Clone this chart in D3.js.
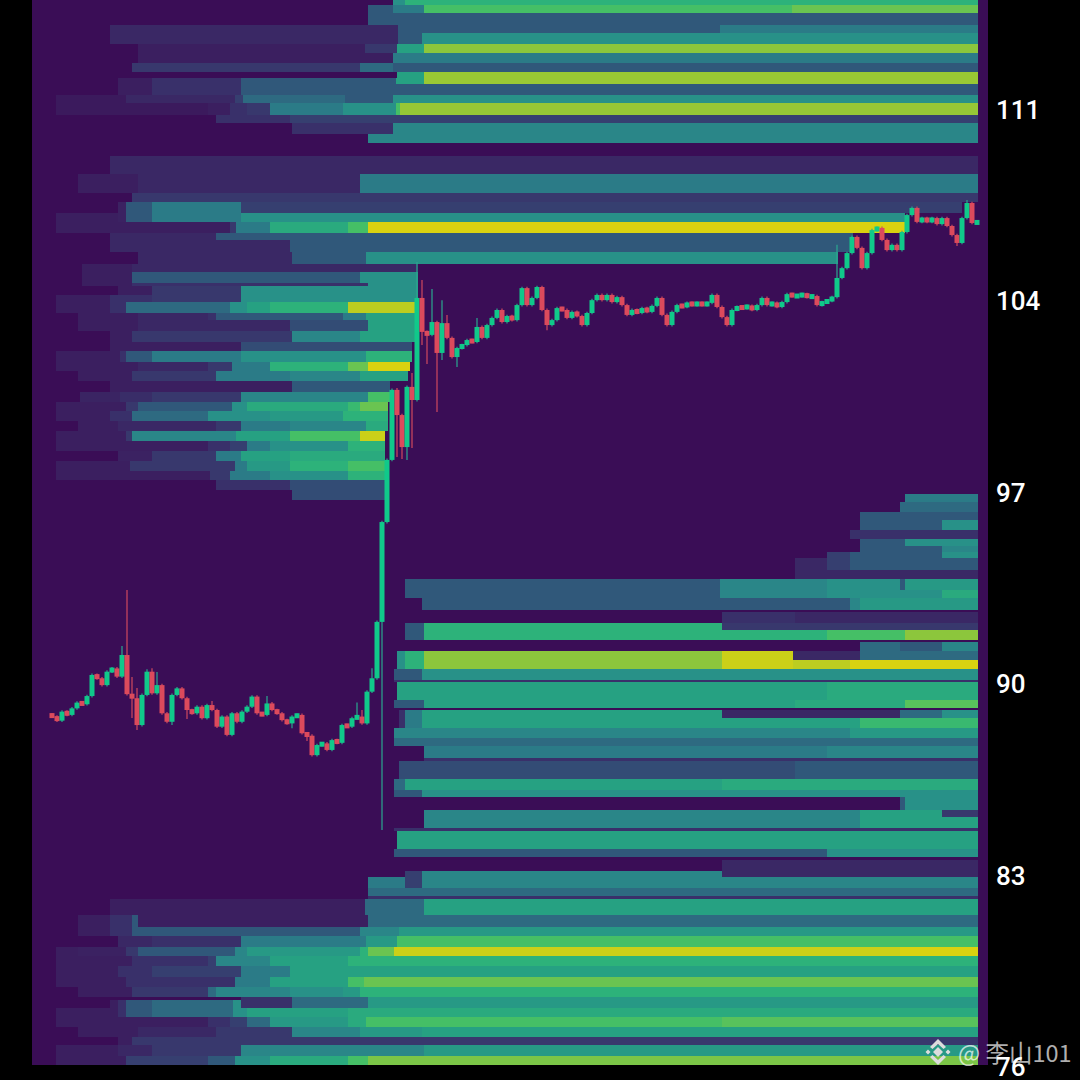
<!DOCTYPE html>
<html>
<head>
<meta charset="utf-8">
<script src="https://cdn.jsdelivr.net/npm/d3@7/dist/d3.min.js"></script>
<style>
html,body{margin:0;padding:0;background:#000;width:1080px;height:1080px;overflow:hidden}
svg{display:block}
</style>
</head>
<body>
<svg id="chart" width="1080" height="1080"></svg>
<script>
// ---------- DATA ----------
const priceTicks = [111, 104, 97, 90, 83, 76];
const watermarkText = "@ 李山101";

// Heat level (0 = empty … 13 = strongest)
const heatLevels = [0,1,2,3,4,5,6,7,8,9,10,11,12,13];
const heatColours = ["#3a0d56","#3b1f60","#39306a","#363f70","#30587a","#2b7b87","#289188","#26a182","#2db27a","#45bf66","#6ac451","#8cc63c","#bccd20","#d9d210"];

// Rows: [price top, price bottom, [[candle index where the step starts, heat level], ...]]
const heatUpper = [
[115.02,114.84,[[68.2,6],[70.6,8]]],
[114.84,114.54,[[63.2,4],[68.2,5],[74.4,9],[148,10]]],
[114.54,114.11,[[63.2,4]]],
[114.11,113.81,[[11.6,1.5],[69.2,4],[133.6,5]]],
[113.81,113.41,[[11.6,1.5],[69.2,4],[74,6]]],
[113.41,113.08,[[17.2,1],[62.6,2.5],[69,7],[74.4,11]]],
[113.08,112.72,[[17.2,1],[68.2,5]]],
[112.72,112.39,[[16,2.5],[61.6,4.5],[68.2,4]]],
[112.39,112.17,[[69,7],[74.4,11.3]]],
[112.17,111.95,[[13.2,1],[20,2],[37.8,4],[68.8,7],[74.4,11.3]]],
[111.95,111.55,[[13.2,1],[20,2],[37.8,4]]],
[111.55,111.26,[[0.8,0.7],[14.8,1.5],[36.6,3],[38.2,4.5],[58.6,4],[68.2,6]]],
[111.26,110.82,[[0.8,0.7],[31.2,1],[35.6,2],[39,2.5],[43.6,5],[58.2,6],[68.8,9],[69.6,11.2]]],
[110.82,110.52,[[32.8,2],[47.6,3]]],
[110.52,110.12,[[48,2],[68.2,5.5]]],
[110.12,109.79,[[63.2,5.5]]],
[109.32,108.66,[[11.6,1.5]]],
[108.66,107.97,[[5.2,1],[17.2,1.5],[61.6,5]]],
[107.97,107.64,[[16,2.5]]],
[107.64,107.24,[[13.2,1.2],[14.8,4],[20,5],[37.8,3],[182,0]]],
[107.24,106.91,[[0.8,1],[13.2,1.2],[14.8,4],[20,5],[37.8,6],[170.6,0]]],
[106.91,106.50,[[0.8,1],[35.6,2.5],[36.8,5],[43.6,7.5],[59.2,9],[63.2,13],[170.6,0]]],
[106.50,106.25,[[11.6,1.5],[32.8,4],[160.2,0]]],
[106.25,105.81,[[11.6,1.5],[47.6,4],[160.2,0]]],
[105.81,105.37,[[17.2,1.5],[48,4],[62.8,6],[157.2,0]]],
[105.37,105.08,[[6,1],[16,1.5],[73.2,0]]],
[105.08,104.68,[[6,1],[16,4],[61.6,6],[73.2,0]]],
[104.68,104.57,[[6,1],[16,2],[63.2,6],[73.2,0]]],
[104.57,104.24,[[13.2,1],[20,2.5],[37.8,6],[73.2,0]]],
[104.24,103.98,[[0.8,1],[11.6,2],[20,2.5],[37.8,6],[73.2,0]]],
[103.98,103.58,[[0.8,1],[11.6,2],[14.8,4.5],[35.6,6],[39,7],[43.6,8],[59.2,12],[72.8,0]]],
[103.58,103.32,[[5.2,1],[17.2,1.5],[31.2,2],[32.8,4],[58.2,5],[62.8,7],[73.2,0]]],
[103.32,102.92,[[5.2,1],[17.2,1.5],[47.6,3.5],[63.2,7],[73.2,0]]],
[102.92,102.52,[[11.6,1],[16,2.5],[48,5.5],[61.6,7],[73.2,0]]],
[102.52,102.19,[[11.6,1],[37.8,3.5],[72,0]]],
[102.19,101.79,[[0.8,1],[13.6,2],[14.8,4],[20,5],[37.8,6],[62.8,8],[72,0]]],
[101.79,101.46,[[0.8,1],[17.2,1.5],[31.2,2.5],[36,5],[43.6,8],[59.2,10],[63.2,13],[71.6,0]]],
[101.46,101.09,[[5.2,1],[16,2.5],[32.8,5],[47.6,5.5],[61.6,7],[71.2,0]]],
[101.09,100.69,[[11.6,1],[48,4],[67.6,0]]],
[100.69,100.33,[[5.6,1.3],[13.6,1.8],[20,2.5],[37.8,5.5],[63.2,9],[67.6,0]]],
[100.33,100.00,[[0.8,1],[14.8,2.5],[17.2,4],[36,6],[39,7.5],[59.2,8.5],[61.6,10],[67.2,0]]],
[100.00,99.63,[[0.8,1],[11.6,2],[16,4.5],[31.2,6],[43.6,6.5],[58.2,8],[67.2,0]]],
[99.63,99.27,[[5.2,1],[13.2,1.5],[32.8,2.5],[37.8,5],[47.6,5.5],[62.8,7.5],[67.2,0]]],
[99.27,98.90,[[0.8,1],[14.8,2.5],[16,5.5],[36.8,7],[47.6,9],[61.6,12.5],[66.6,0]]],
[98.90,98.54,[[0.8,1],[31.2,2],[35.6,3],[39,5],[43.6,6],[59.2,8],[66.6,0]]],
[98.54,98.17,[[13.2,1.2],[20,2.5],[32.8,5],[37.8,7],[47.6,7.5],[66.6,0]]],
[98.17,97.81,[[0.8,1],[15.6,2.5],[36.6,5],[39,6.5],[47.6,8],[59.2,9],[66.6,0]]],
[97.81,97.48,[[0.8,1],[31.6,2.5],[35.6,5],[43.6,6],[59.2,8],[66.6,0]]],
[97.48,97.11,[[32.8,2],[47.6,3.5],[66.6,0]]],
[97.11,96.75,[[48,3.5],[66.6,0]]]
];

const heatRight = [
[96.96,96.67,[[170.6,5]]],
[96.67,96.31,[[169.6,4.5]]],
[96.31,96.01,[[161.6,4]]],
[96.01,95.65,[[161.6,4],[178,6]]],
[95.65,95.32,[[159.6,2]]],
[95.32,95.06,[[161.6,4],[170.6,6]]],
[95.06,94.84,[[161.6,4],[178,5.5]]],
[94.84,94.62,[[155,3],[159.6,4],[178,6]]],
[94.62,94.19,[[148.6,1.5],[155,3],[159.6,4]]],
[94.19,93.86,[[148.6,1.5]]]
];

const heatMiddle = [
[93.86,93.46,[[70.6,4],[133.6,5.5],[155,6],[169.6,4],[170.6,6.5]]],
[93.46,93.16,[[70.6,4],[133.6,5.5],[155,6],[178,7.5]]],
[93.16,92.72,[[74,4],[159.6,5.5],[161.6,6.5]]],
[92.65,92.25,[[134,2],[148.6,1.5]]],
[92.25,91.99,[[70.6,4],[74.4,8],[134,2.5]]],
[91.99,91.63,[[70.6,4],[74.4,8],[155,9],[170.6,11]]],
[91.55,91.23,[[161.6,4.5],[169.6,4],[178,5.5]]],
[91.23,90.90,[[69,6],[70.6,8],[74.4,11],[134,12.5],[148.2,1.5],[161.6,4.5]]],
[90.90,90.57,[[69,6],[70.6,8],[74.4,11],[134,12.5],[148.2,12],[159.6,13]]],
[90.57,90.17,[[68.4,4],[74,6]]],
[90.17,90.09,[[68.4,2]]],
[90.09,89.43,[[69,7],[155,7.5]]],
[89.43,89.14,[[68.4,4],[74.4,7],[148.6,7.5],[170.6,9.5]]],
[89.07,88.78,[[69.4,2],[70.6,5],[74,7],[134,1.5],[169.6,4.5],[178,6]]],
[88.78,88.41,[[69.4,2],[70.6,5],[74,7],[161.6,8.5]]],
[88.41,88.05,[[68.4,5.5],[159.6,6.5]]],
[88.05,87.75,[[68.4,4.5]]],
[87.75,87.31,[[74.4,5],[155,5.5]]],
[87.31,87.21,[[74.4,2]]],
[87.21,86.55,[[69.4,3.5],[148.6,4]]],
[86.55,86.15,[[68.4,4.5],[70.6,7],[134,7.5]]],
[86.15,85.89,[[68.4,4],[74,6]]],
[85.89,85.41,[[169.6,4],[170.6,6]]],
[85.41,85.16,[[74.4,5.5],[161.6,7],[178,2.5]]],
[85.16,84.76,[[74.4,5.5],[161.6,7]]],
[84.76,84.65,[[68.4,2]]],
[84.65,83.99,[[69,7]]],
[83.99,83.70,[[68.4,4],[155,6]]]
];

const heatLower = [
[83.59,83.19,[[134,1.5]]],
[83.19,82.97,[[70.6,3],[74,5.5],[134,1.5]]],
[82.97,82.56,[[63.2,5],[70.6,3],[74,5.5]]],
[82.56,82.27,[[63.2,4.5]]],
[82.27,82.16,[[63.2,2]]],
[82.16,81.58,[[11.6,1],[62.6,4.5],[74.4,7]]],
[81.58,81.14,[[5.2,1],[11.6,2],[16,4],[17.2,1],[63.2,4.5]]],
[81.14,80.81,[[5.2,1],[11.6,2],[16,4],[61.6,5.5],[69.4,6.5]]],
[80.81,80.41,[[13.2,1.5],[20,2],[37.8,5],[62.8,6.5],[69,9]]],
[80.41,80.08,[[0.8,1],[5.2,1.2],[14.8,2.5],[17.2,4],[36.6,5.5],[39,6.5],[61.6,8],[63.2,10],[68.4,12.5],[169.6,13]]],
[80.08,79.71,[[0.8,1],[16,2],[31.2,3],[32.8,5.5],[43.6,7],[59.2,8]]],
[79.71,79.31,[[0.8,1],[13.2,2],[20,3],[37.8,5],[47.6,7]]],
[79.31,78.95,[[0.8,1],[14.8,2],[36.6,5],[43.6,7],[59.2,9],[62.4,10]]],
[78.95,78.58,[[5.2,1],[16,2.5],[31.2,4.5],[32.8,5.5],[47.6,6],[58.2,6.5],[61.6,8]]],
[78.58,78.47,[[37.8,2],[48,4.5],[63.2,6.5]]],
[78.47,78.18,[[11.6,1],[13.2,2],[14.8,4],[20,4.5],[36.2,6],[37.8,2],[48,4.5],[63.2,6.5]]],
[78.18,77.85,[[0.8,1],[13.2,2],[14.8,4],[20,4.5],[36.2,6],[39,7],[59.2,7.5]]],
[77.85,77.48,[[0.8,1],[31.2,2],[35.6,3],[39,4.5],[43.6,6.5],[59.2,7.5],[62.8,9],[134,9.5]]],
[77.48,77.12,[[5.2,1],[17.2,1.5],[32.8,2.5],[48,5.5],[61.6,6.5],[74,7]]],
[77.12,76.83,[[13.2,1],[16,2.5]]],
[76.83,76.42,[[0.8,1],[13.2,1.5],[20,2.5],[37.8,5.5],[74.4,6.5]]],
[76.42,76.09,[[0.8,1],[14.8,3],[31.2,4],[36.6,6],[43.6,7.5],[59.2,9],[63.2,10.5]]]
];

const firstOpen = 88.90;
const candleClose = [
88.83,88.68,89.01,88.89,89.13,89.34,89.28,89.58,90.35,90.23,89.98,90.47,90.59,90.29,91.08,89.65,
89.50,88.52,89.62,90.47,89.68,89.98,88.95,88.64,89.62,89.86,89.50,89.07,88.95,89.19,88.77,89.25,
89.07,88.46,88.83,88.16,88.95,88.64,89.01,89.19,89.56,88.95,88.89,89.31,89.07,88.95,88.70,88.58,
88.83,88.89,88.22,88.13,87.42,87.79,87.85,87.61,87.97,87.87,88.52,88.46,88.77,88.83,88.58,89.74,
90.23,92.29,95.94,98.21,100.77,99.85,98.68,100.88,100.40,104.13,102.89,102.78,103.25,102.12,103.21,102.67,
101.97,102.30,102.41,102.59,102.52,103.07,102.67,103.14,103.40,103.69,103.25,103.47,103.32,103.87,104.49,103.87,
104.13,104.53,103.69,103.14,103.32,103.76,103.69,103.40,103.62,103.47,103.14,103.58,104.05,104.24,104.05,104.24,
103.98,104.16,103.87,103.51,103.69,103.58,103.76,103.62,103.84,104.13,103.51,103.14,103.62,103.87,103.80,103.95,
103.87,103.95,103.87,103.95,104.24,103.80,103.43,103.14,103.69,103.80,103.76,103.84,103.69,103.87,104.13,103.87,
103.95,103.80,103.98,104.27,104.20,104.20,104.27,104.16,104.20,103.87,103.98,104.02,104.16,104.86,105.22,105.77,
106.36,105.96,105.22,105.77,106.61,106.69,106.25,105.88,106.07,105.88,106.54,107.16,107.42,106.91,107.05,106.91,
107.05,106.83,107.05,106.76,106.43,106.14,107.05,107.60,106.87,106.91
];
// Notable wick extremes, by candle index
const wickHigh = {14:91.41,15:93.46,16:90.28,17:89.87,19:90.56,20:90.60,21:90.46,32:89.40,43:89.58,61:89.34,62:89.07,64:90.60,
69:100.84,72:101.39,73:105.44,74:104.79,76:104.46,78:104.05,79:103.51,85:103.40,157:106.07,183:107.71};
const wickLow = {16:88.78,17:88.34,24:88.52,27:88.74,48:88.40,51:87.94,66:84.68,69:98.32,70:98.24,71:98.21,72:98.65,
74:102.41,75:101.72,77:99.96,78:101.86,81:101.61,99:102.95,181:106.03};

// ---------- DRAW ----------
const plotBottom = 1065, minBody = 5;
const svg = d3.select("#chart");
const x = d3.scaleLinear().domain([-4, 187.2]).range([32, 988]);
const y = d3.scaleLinear().domain([115.02, 76]).range([0, 1067.6]);
const heatColour = d3.scaleLinear().domain(heatLevels).range(heatColours);
const lastStep = 185.2;

svg.append("rect").attr("x", x(-4)).attr("y", 0).attr("width", x(187.2) - x(-4)).attr("height", plotBottom).attr("fill", heatColours[0]);

const clip = svg.append("defs").append("clipPath").attr("id", "plot");
clip.append("rect").attr("x", x(-4)).attr("y", 0).attr("width", x(187.2) - x(-4)).attr("height", plotBottom);
const plot = svg.append("g").attr("clip-path", "url(#plot)");

const heatRows = heatUpper.concat(heatRight, heatMiddle, heatLower);
const cells = heatRows.flatMap(([top, bottom, steps]) =>
  steps.map(([t, level], i) => ({top, bottom, t, level, end: i + 1 < steps.length ? steps[i + 1][0] : lastStep}))
).filter(d => d.level > 0);

plot.append("g").attr("shape-rendering", "crispEdges").selectAll("rect").data(cells).join("rect")
  .attr("x", d => x(d.t))
  .attr("width", d => x(d.end) - x(d.t))
  .attr("y", d => y(d.top))
  .attr("height", d => y(d.bottom) - y(d.top))
  .attr("fill", d => heatColour(d.level));

const candles = candleClose.map((close, i) => {
  const open = i ? candleClose[i - 1] : firstOpen;
  return {i, open, close,
    high: wickHigh[i] !== undefined ? wickHigh[i] : Math.max(open, close) + 0.05,
    low: wickLow[i] !== undefined ? wickLow[i] : Math.min(open, close) - 0.05};
});
const upColour = "#10c98a", downColour = "#dc4a5c";
const cg = plot.append("g");
cg.selectAll("line").data(candles).join("line")
  .attr("x1", d => x(d.i)).attr("x2", d => x(d.i))
  .attr("y1", d => y(d.high)).attr("y2", d => y(d.low))
  .attr("stroke", d => d.close >= d.open ? "#2aa890" : "#d0495f")
  .attr("stroke-width", 1.2);
const bodyHeight = d => Math.max(minBody, Math.abs(y(d.open) - y(d.close)));
cg.selectAll("rect").data(candles).join("rect")
  .attr("x", d => x(d.i - 0.5)).attr("width", x(1) - x(0))
  .attr("y", d => (y(d.open) + y(d.close)) / 2 - bodyHeight(d) / 2)
  .attr("height", bodyHeight)
  .attr("fill", d => d.close >= d.open ? upColour : downColour);

// watermark
const mark = svg.append("g").attr("transform", "translate(938,1052)").attr("fill", "#dcdcdc");
mark.append("path").attr("d", "M0,-5 L5,0 L0,5 L-5,0Z");
mark.append("path").attr("d", "M-10,-2.5 L-7.5,0 L-10,2.5 L-12.5,0Z M10,-2.5 L12.5,0 L10,2.5 L7.5,0Z");
mark.append("path").attr("d", "M0,-13 L8,-5 L5.5,-3 L0,-8 L-5.5,-3 L-8,-5Z M0,13 L8,5 L5.5,3 L0,8 L-5.5,3 L-8,5Z");
svg.append("text").attr("x", 958).attr("y", 1062)
  .attr("font-family", "'Noto Sans CJK SC','Noto Sans',sans-serif").attr("font-size", 23.5)
  .attr("fill", "#ffffff").attr("fill-opacity", 0.7).text(watermarkText);

// price axis
const axis = d3.axisRight(y).tickValues(priceTicks).tickSize(0).tickPadding(8).tickFormat(d3.format("d"));
const ag = svg.append("g").attr("transform", `translate(${x(187.2)},0)`).call(axis);
ag.select(".domain").remove();
ag.selectAll("text").attr("fill", "#fff").attr("font-family", "Roboto, sans-serif").attr("font-weight", 500).attr("font-size", 26);
</script>
</body>
</html>
